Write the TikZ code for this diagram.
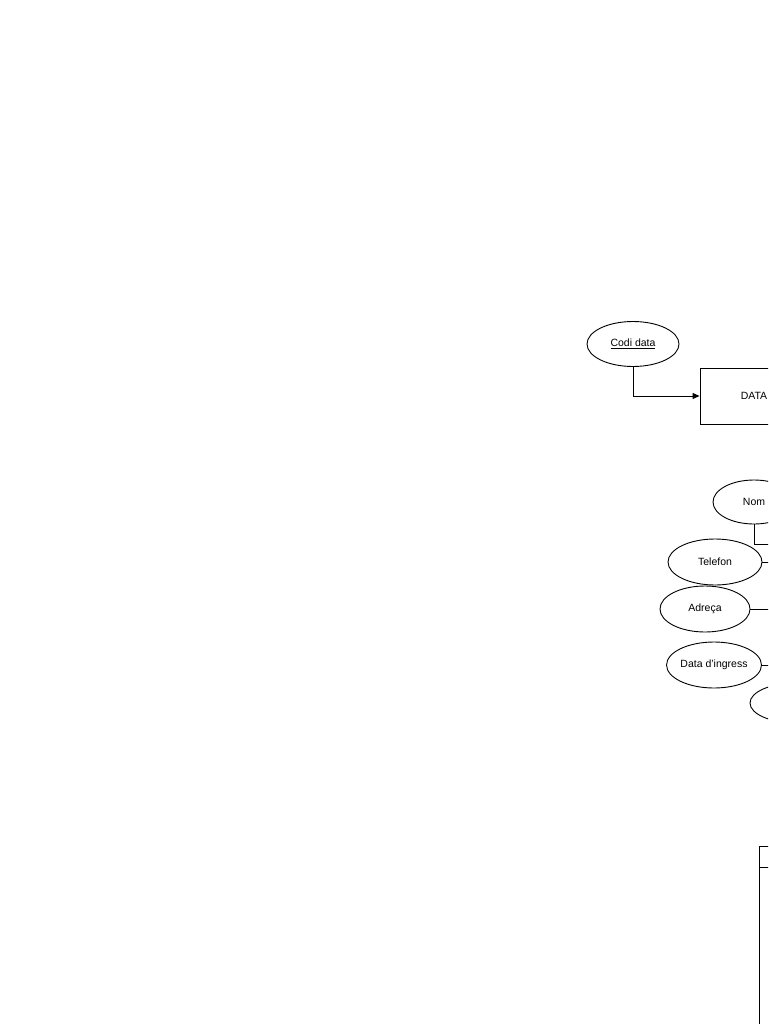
\documentclass[tikz,border=0pt]{standalone}
\usepackage{fontspec}
\setmainfont{Liberation Sans}
\usetikzlibrary{arrows.meta,shapes.geometric}
\begin{document}
\begin{tikzpicture}[x=1pt,y=-1pt,
  attr/.style={draw=black,line width=0.9pt,ellipse,minimum width=92pt,minimum height=45pt,inner sep=0pt,font=\fontsize{10.5}{12}\selectfont},
  ent/.style={draw=black,line width=0.9pt,rectangle,inner sep=0pt,font=\fontsize{10.5}{12}\selectfont},
  conn/.style={draw=black,line width=0.9pt}]
\useasboundingbox (0,0) rectangle (768,1024);
\clip (0,0) rectangle (768,1024);
% Codi data -> DATA
\node[attr] (codi) at (633,344) {\underline{Codi data}};
\node[ent,minimum width=108pt,minimum height=56pt] (data) at (754,396) {DATA};
\draw[conn,-{Triangle[length=7pt,width=6pt]}] (codi.south) |- (data.west);
% attributes of second entity
\node[attr,minimum width=82pt,minimum height=44pt] (nom) at (754,502) {Nom};
\node[attr,minimum width=94pt,minimum height=46pt] (tel) at (715,562) {Telefon};
\node[attr,minimum width=90pt,minimum height=46pt] (adr) at (705,609) {Adreça};
\node[attr,minimum width=92pt,minimum height=46pt] (ding) at (714,665) {Data d'ingress};
\node[attr,minimum width=92pt,minimum height=40pt] (bot) at (796,703) {};
\coordinate (enom) at (790,544);
\coordinate (etel) at (790,562);
\coordinate (eadr) at (790,609);
\coordinate (eding) at (790,665);
\draw[conn] (nom.south) |- (enom);
\draw[conn] (tel.east) -- (etel);
\draw[conn] (adr.east) -- (eadr);
\draw[conn] (ding.east) -- (eding);
% table at bottom
\coordinate (ttl) at (759,846);
\coordinate (ttr) at (800,846);
\coordinate (thl) at (759,867);
\coordinate (thr) at (800,867);
\coordinate (tbl) at (759,1030);
\draw[conn] (tbl) -- (ttl) -- (ttr);
\draw[conn] (thl) -- (thr);
\end{tikzpicture}
\end{document}
